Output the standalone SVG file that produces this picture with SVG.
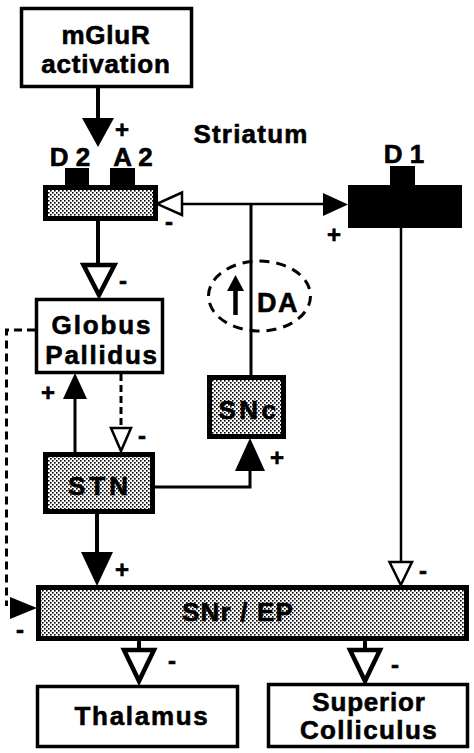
<svg xmlns="http://www.w3.org/2000/svg" width="474" height="753" viewBox="0 0 474 753">
<defs>
<pattern id="stip" width="4" height="4" patternUnits="userSpaceOnUse">
<rect width="4" height="4" fill="#ffffff"/>
<rect x="0" y="0" width="1.6" height="1.6" fill="#000"/>
<rect x="2" y="2" width="1.6" height="1.6" fill="#000"/>
</pattern>
</defs>
<style>
text{font-family:"Liberation Sans",Arial,sans-serif;font-weight:bold;fill:#000;stroke:#000;stroke-width:0.6}
.lbl{font-size:26px;letter-spacing:1px;text-anchor:middle}
.sg{font-size:24px;text-anchor:middle}
.box{fill:#fff;stroke:#000;stroke-width:3.5}
.sbox{fill:url(#stip);stroke:#000;stroke-width:5}
.ln{fill:none;stroke:#000;stroke-width:3}
.thk{stroke-width:4}
.thn{stroke-width:2.5}
.dash{stroke-dasharray:8 5}
.fa{fill:#000;stroke:none}
.oa{fill:#fff;stroke:#000;stroke-width:2.5;stroke-linejoin:miter}
.oat{fill:#fff;stroke:#000;stroke-width:4.5;stroke-linejoin:miter}
</style>
<rect width="474" height="753" fill="#fff"/>

<g id="connectors">
<line class="ln thk" x1="98" y1="88" x2="98" y2="120"/>
<polygon class="fa" points="82,118 114,118 98,147"/>
<line class="ln thn" x1="182" y1="204" x2="324" y2="204"/>
<polygon class="oa" points="182,192.5 182,215 157,203.8"/>
<polygon class="fa" points="323,193 323,216 348,204.5"/>
<line class="ln" x1="251" y1="204" x2="251" y2="375"/>
<line class="ln thn" x1="401" y1="228" x2="401" y2="562"/>
<polygon class="oa" points="389.5,562 412,562 400.8,585"/>
<line class="ln thk" x1="98" y1="220" x2="98" y2="265"/>
<polygon class="oat" points="83.5,265 114.5,265 99,295"/>
<path class="ln dash" d="M35,330 H6.5 V606"/>
<polygon class="fa" points="10,597 10,619 37,608"/>
<line class="ln" x1="75" y1="452" x2="75" y2="396"/>
<polygon class="fa" points="63,399 87,399 75,373"/>
<line class="ln dash" x1="121" y1="374" x2="121" y2="428" style="stroke-dasharray:7 4"/>
<polygon class="oa" points="111,428 131,428 121,451"/>
<path class="ln" d="M154,487 H250 V468"/>
<polygon class="fa" points="235,471 265,471 250,438"/>
<line class="ln thk" x1="97" y1="513" x2="97" y2="553"/>
<polygon class="fa" points="81,552 113,552 97,586"/>
<line class="ln thk" x1="139" y1="640" x2="139" y2="650"/>
<polygon class="oat" points="124,650 154,650 139,681"/>
<line class="ln thk" x1="365" y1="640" x2="365" y2="650"/>
<polygon class="oat" points="350,650 380,650 365,681"/>
</g>

<g id="signs">
<text class="sg" x="122" y="138">+</text>
<text class="sg" x="169" y="230">-</text>
<text class="sg" x="334" y="243">+</text>
<text class="sg" x="123" y="289">-</text>
<text class="sg" x="48" y="401">+</text>
<text class="sg" x="142" y="444">-</text>
<text class="sg" x="277" y="466">+</text>
<text class="sg" x="122" y="578">+</text>
<text class="sg" x="423" y="579">-</text>
<text class="sg" x="20" y="638">-</text>
<text class="sg" x="172" y="669">-</text>
<text class="sg" x="395" y="673">-</text>
</g>

<g id="mglur">
<rect class="box" x="21.5" y="8.5" width="170" height="78"/>
<text class="lbl" x="106" y="44" style="letter-spacing:0.8px">mGluR</text>
<text class="lbl" x="106" y="73" style="letter-spacing:0.8px">activation</text>
</g>

<g id="striatum-label">
<text class="lbl" x="251" y="143" style="letter-spacing:1.2px">Striatum</text>
</g>

<g id="striatum-d2">
<text class="lbl" x="70" y="166" style="letter-spacing:0">D 2</text>
<text class="lbl" x="133" y="166" style="letter-spacing:0">A 2</text>
<rect x="65" y="168" width="24" height="18" fill="#000"/>
<rect x="110" y="168" width="25" height="18" fill="#000"/>
<rect class="sbox" x="45.5" y="187.5" width="110" height="31"/>
</g>

<g id="striatum-d1">
<text class="lbl" x="404" y="163" style="letter-spacing:0">D 1</text>
<rect x="390" y="166" width="25" height="20" fill="#000"/>
<rect x="348" y="185" width="114" height="43" fill="#000"/>
</g>

<g id="da">
<ellipse cx="259.5" cy="296" rx="51" ry="35" fill="none" stroke="#000" stroke-width="3" stroke-dasharray="10 7"/>
<line x1="235.5" y1="288" x2="235.5" y2="315" stroke="#000" stroke-width="4.5"/>
<polygon class="fa" points="227,291 244,291 235.5,275"/>
<text class="lbl" x="278" y="312" style="letter-spacing:1.5px;font-size:27px">DA</text>
</g>

<g id="globus-pallidus">
<rect class="box" x="36.5" y="299.5" width="126" height="73"/>
<text class="lbl" x="102" y="334" style="letter-spacing:1.9px">Globus</text>
<text class="lbl" x="102" y="364" style="letter-spacing:1.7px">Pallidus</text>
</g>

<g id="snc">
<rect class="sbox" x="209.5" y="377.5" width="74" height="59"/>
<text class="lbl" x="249" y="419" style="letter-spacing:3.5px">SNc</text>
</g>

<g id="stn">
<rect class="sbox" x="45.5" y="454.5" width="107" height="57"/>
<text class="lbl" x="100" y="495" style="letter-spacing:4px">STN</text>
</g>

<g id="snr-ep">
<rect class="sbox" x="38.5" y="587.5" width="428" height="51"/>
<text class="lbl" x="238" y="621" style="letter-spacing:1.2px">SNr / EP</text>
</g>

<g id="thalamus">
<rect class="box" x="37.5" y="686.5" width="200" height="60"/>
<text class="lbl" x="142" y="725" style="letter-spacing:1.7px">Thalamus</text>
</g>

<g id="superior-colliculus">
<rect class="box" x="268.5" y="684.5" width="199" height="62"/>
<text class="lbl" x="369" y="711" style="letter-spacing:0.8px">Superior</text>
<text class="lbl" x="369" y="739" style="letter-spacing:1.4px">Colliculus</text>
</g>
</svg>
